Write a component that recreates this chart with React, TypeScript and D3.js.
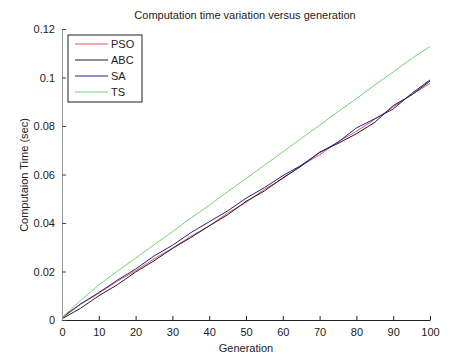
import React, { useEffect, useRef } from 'react';
import * as d3 from 'd3';

const generations = [0, 5, 10, 15, 20, 25, 30, 35, 40, 45, 50, 55, 60, 65, 70, 75, 80, 85, 90, 95, 100];
const psoTimes = [0.0008, 0.0064, 0.0110, 0.0160, 0.0203, 0.0252, 0.0296, 0.0345, 0.0388, 0.0441, 0.0485, 0.0539, 0.0583, 0.0637, 0.0681, 0.0735, 0.0778, 0.0828, 0.0878, 0.0929, 0.0976];
const abcTimes = [0.0005, 0.0048, 0.0100, 0.0145, 0.0198, 0.0244, 0.0295, 0.0340, 0.0388, 0.0434, 0.0489, 0.0532, 0.0586, 0.0634, 0.0692, 0.0728, 0.0768, 0.0815, 0.0884, 0.0928, 0.0985];
const saTimes = [0.0010, 0.0066, 0.0113, 0.0164, 0.0210, 0.0264, 0.0308, 0.0360, 0.0405, 0.0450, 0.0502, 0.0546, 0.0595, 0.0638, 0.0690, 0.0733, 0.0792, 0.0830, 0.0870, 0.0934, 0.0990];
const tsTimes = [0.0010, 0.0080, 0.0144, 0.0201, 0.0255, 0.0310, 0.0364, 0.0420, 0.0473, 0.0529, 0.0583, 0.0638, 0.0693, 0.0749, 0.0803, 0.0859, 0.0913, 0.0969, 0.1023, 0.1078, 0.1128];

const seriesNames = ['PSO', 'ABC', 'SA', 'TS'];
const seriesColors = ['#e8575a', '#1e1e1e', '#22229a', '#6fd46f'];
const xTicks = [0, 10, 20, 30, 40, 50, 60, 70, 80, 90, 100];
const yTicks = [0, 0.02, 0.04, 0.06, 0.08, 0.1, 0.12];

export default function App() {
  const svgRef = useRef<SVGSVGElement>(null);

  useEffect(() => {
    const width = 474;
    const height = 360;
    const margin = { top: 29, right: 44, bottom: 40, left: 62 };
    const font = 'Liberation Sans, Arial, sans-serif';

    const svg = d3.select(svgRef.current);
    svg.selectAll('*').remove();
    svg.attr('width', width).attr('height', height);

    const x = d3.scaleLinear().domain([0, 100]).range([margin.left, width - margin.right]);
    const y = d3.scaleLinear().domain([0, 0.12]).range([height - margin.bottom, margin.top]);

    const series = [psoTimes, abcTimes, saTimes, tsTimes];

    // lines
    const line = d3.line<number>()
      .x((_, i) => x(generations[i]))
      .y(d => y(d));

    series.forEach((vals, i) => {
      svg.append('path')
        .datum(vals)
        .attr('d', line)
        .attr('fill', 'none')
        .attr('stroke', seriesColors[i])
        .attr('stroke-width', 1);
    });

    // axes (ticks pointing inward, MATLAB style)
    const xAxis = d3.axisBottom(x).tickValues(xTicks).tickSizeInner(-4).tickSizeOuter(0).tickPadding(8);
    const gx = svg.append('g')
      .attr('transform', `translate(0,${height - margin.bottom})`)
      .call(xAxis);
    gx.select('.domain').attr('stroke', '#222');
    gx.selectAll('line').attr('stroke', '#222');
    gx.selectAll('text').attr('font-family', font).attr('font-size', 11).attr('fill', '#222');

    const yAxis = d3.axisLeft(y).tickValues(yTicks).tickFormat(d => String(+d)).tickSizeInner(-4).tickSizeOuter(0).tickPadding(7);
    const gy = svg.append('g')
      .attr('transform', `translate(${margin.left},0)`)
      .call(yAxis);
    gy.select('.domain').attr('stroke', '#999');
    gy.selectAll('line').attr('stroke', '#444');
    gy.selectAll('text').attr('font-family', font).attr('font-size', 11).attr('fill', '#222');

    // title and labels
    svg.append('text')
      .attr('x', 245).attr('y', 19)
      .attr('text-anchor', 'middle')
      .attr('font-family', font).attr('font-size', 11).attr('fill', '#222')
      .text('Computation time variation versus generation');

    svg.append('text')
      .attr('x', 246).attr('y', 352)
      .attr('text-anchor', 'middle')
      .attr('font-family', font).attr('font-size', 11).attr('fill', '#222')
      .text('Generation');

    svg.append('text')
      .attr('transform', 'rotate(-90)')
      .attr('x', -175).attr('y', 28)
      .attr('text-anchor', 'middle')
      .attr('font-family', font).attr('font-size', 11).attr('fill', '#222')
      .text('Computaion Time (sec)');

    // legend
    const legend = svg.append('g').attr('transform', 'translate(68,35)');
    legend.append('rect')
      .attr('width', 74).attr('height', 67)
      .attr('fill', 'white').attr('stroke', '#222').attr('stroke-width', 1);
    seriesNames.forEach((name, i) => {
      const ly = 9 + i * 16;
      legend.append('line')
        .attr('x1', 7).attr('x2', 40)
        .attr('y1', ly).attr('y2', ly)
        .attr('stroke', seriesColors[i]).attr('stroke-width', 1);
      legend.append('text')
        .attr('x', 43).attr('y', ly).attr('dy', '0.35em')
        .attr('font-family', font).attr('font-size', 11).attr('fill', '#222')
        .text(name);
    });
  }, []);

  return <svg ref={svgRef} style={{ position: 'absolute', left: 0, top: 0 }}></svg>;
}
